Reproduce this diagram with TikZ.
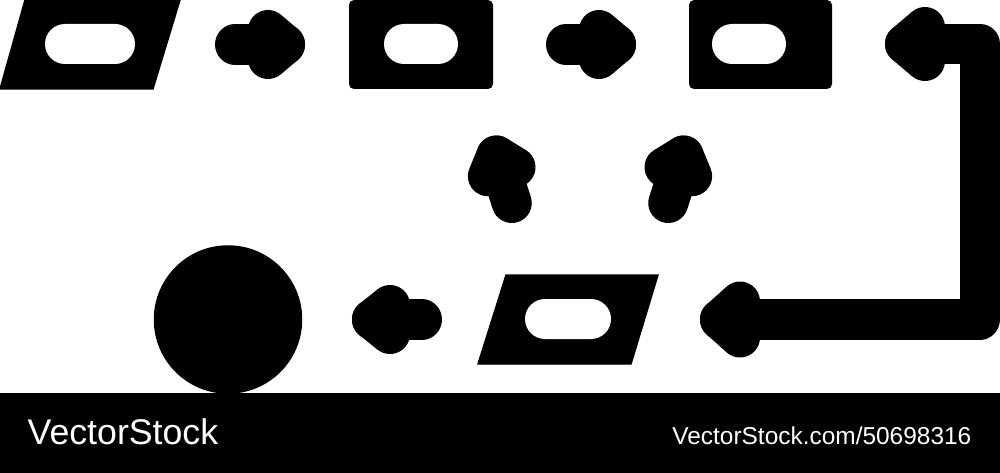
\documentclass[tikz,border=0pt]{standalone}
\usepackage{fontspec}
\newfontfamily\bannerfont{Liberation Sans}
\usetikzlibrary{calc}

\begin{document}
\begin{tikzpicture} [x=.01cm, y=-.01cm,
  flowline/.style={black, line width=4mm, line cap=round, line join=round},
  hole/.style={fill=white, rounded corners=2mm}]
\useasboundingbox (0,0) rectangle (1000,473);
\filldraw[black] (25,0)--(180,0)--(153,89)--(0,89)--cycle;
\fill[hole] (45,24) rectangle (135,64);
\foreach \x/\w in {349/493, 689/832} {
 \fill[black, rounded corners=.5mm] (\x,0) rectangle (\w,89);
}
\fill[hole] (384,24) rectangle (458,64);
\fill[hole] (712,24) rectangle (786,64);
\filldraw[black] (506,275)--(658,275)--(631,364)--(478,364)--cycle;
\fill[hole] (525,299) rectangle (611,339);
\filldraw[black] (228,319.5) circle (7.35mm);
\foreach \x/\n in {0/a, 331/b} {
 \coordinate (tail\n) at (235+\x,44.5);
 \coordinate (tip\n) at (285+\x,44.5);
 \draw[flowline] (tail\n)--(tip\n);
 \draw[flowline] ($(tip\n)+(-17,-14.5)$)--(tip\n)--($(tip\n)+(-17,14.5)$);
}
\coordinate (tailc) at (422,319.5);
\coordinate (tipc) at (372,319.5);
\draw[flowline] (tailc)--(tipc);
\draw[flowline] ($(tipc)+(18,-14.5)$)--(tipc)--($(tipc)+(18,14.5)$);
\coordinate (taild) at (511.8,203);
\coordinate (tipd) at (496.4,155.5);
\draw[flowline] (taild)--(tipd);
\draw[flowline] (515.5,167.2)--(tipd)--(487.9,176.2);
\coordinate (taile) at (668.2,203);
\coordinate (tipe) at (683.6,155.5);
\draw[flowline] (taile)--(tipe);
\draw[flowline] (664.5,167.2)--(tipe)--(692.1,176.2);
\coordinate (tipf) at (905,44);
\coordinate (tipg) at (720,319.5);
\draw[flowline] (tipf)--(980,44)--(980,319.5)--(tipg);
\draw[flowline] ($(tipf)+(20,-17)$)--(tipf)--($(tipf)+(20,17)$);
\draw[flowline] ($(tipg)+(20,-18)$)--(tipg)--($(tipg)+(20,18)$);
\fill[black] (0,393) rectangle (1000,473);
\node[white, anchor=base west, inner sep=0, font=\bannerfont\fontsize{10.15}{12}\selectfont] (brand) at (27,444) {VectorStock};
\node[white, anchor=base east, inner sep=0, font=\bannerfont\fontsize{6.95}{8}\selectfont] (ref) at (972,444) {VectorStock.com/50698316};
\end{tikzpicture}
\end{document}
